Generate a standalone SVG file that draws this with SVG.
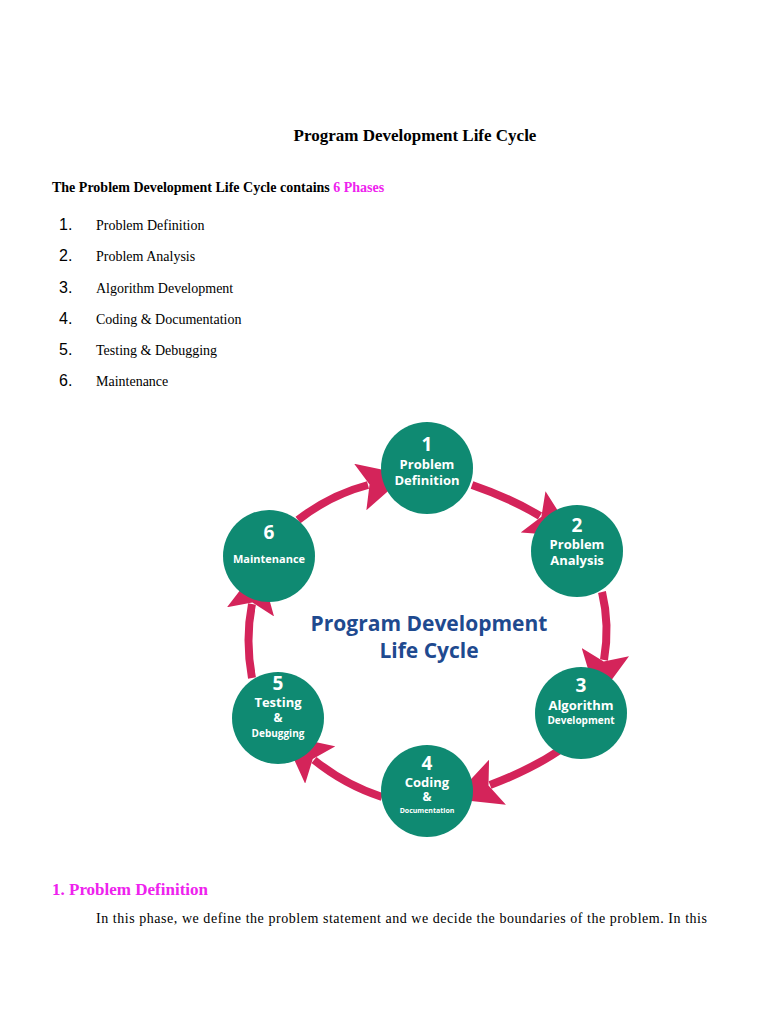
<svg xmlns="http://www.w3.org/2000/svg" width="768" height="1024" viewBox="0 0 768 1024">
<style>
.t{font-family:"Liberation Serif",serif;fill:#000}
.n{font-family:"Liberation Sans",sans-serif;font-size:16px;fill:#000}
.c{fill:#0f8a72}
.w{font-family:"Open Sans","DejaVu Sans",sans-serif;font-weight:bold;fill:#fff;text-anchor:middle}
.a{fill:none;stroke:#d4245a;stroke-width:8;marker-end:url(#h)}
</style>
<defs>
<marker id="h" markerWidth="6" markerHeight="6" refX="1" refY="3" orient="auto" markerUnits="strokeWidth">
<path d="M0,0 L6,3 L0,6 L1.2,3 Z" fill="#d4245a"/>
</marker>
</defs>
<rect width="768" height="1024" fill="#fff"/>
<text class="t" x="415" y="141" font-size="17" font-weight="bold" text-anchor="middle">Program Development Life Cycle</text>
<text class="t" x="52" y="192" font-size="14" font-weight="bold">The Problem Development Life Cycle contains <tspan fill="#ee22ee">6 Phases</tspan></text>
<text class="n" x="59" y="230">1.</text><text class="t" x="96" y="230" font-size="14">Problem Definition</text>
<text class="n" x="59" y="261">2.</text><text class="t" x="96" y="261" font-size="14">Problem Analysis</text>
<text class="n" x="59" y="293">3.</text><text class="t" x="96" y="293" font-size="14">Algorithm Development</text>
<text class="n" x="59" y="324">4.</text><text class="t" x="96" y="324" font-size="14">Coding &amp; Documentation</text>
<text class="n" x="59" y="355">5.</text><text class="t" x="96" y="355" font-size="14">Testing &amp; Debugging</text>
<text class="n" x="59" y="386">6.</text><text class="t" x="96" y="386" font-size="14">Maintenance</text>
<g id="connectors">
<path class="a" d="M472,485 Q510,498 540,516"/>
<path class="a" d="M602,592 Q610,625 604,660"/>
<path class="a" d="M560,750 Q530,770 490,785"/>
<path class="a" d="M382,797 Q345,785 314,760"/>
<path class="a" d="M252,678 Q245,640 252,604"/>
<path class="a" d="M298,520 Q330,495 368,485"/>
</g>
<g id="n1"><circle class="c" cx="427" cy="468" r="46"/><text class="w" x="427" y="451" font-size="19">1</text><text class="w" x="427" y="469" font-size="13">Problem</text><text class="w" x="427" y="485" font-size="13">Definition</text></g>
<g id="n2"><circle class="c" cx="577" cy="551" r="46"/><text class="w" x="577" y="532" font-size="19">2</text><text class="w" x="577" y="549" font-size="13">Problem</text><text class="w" x="577" y="565" font-size="13">Analysis</text></g>
<g id="n3"><circle class="c" cx="581" cy="713" r="46"/><text class="w" x="581" y="692" font-size="19">3</text><text class="w" x="581" y="710" font-size="13">Algorithm</text><text class="w" x="581" y="724" font-size="10">Development</text></g>
<g id="n4"><circle class="c" cx="427" cy="791" r="46"/><text class="w" x="427" y="770" font-size="19">4</text><text class="w" x="427" y="787" font-size="13">Coding</text><text class="w" x="427" y="801" font-size="12">&amp;</text><text class="w" x="427" y="813" font-size="7">Documentation</text></g>
<g id="n5"><circle class="c" cx="278" cy="718" r="46"/><text class="w" x="278" y="690" font-size="19">5</text><text class="w" x="278" y="707" font-size="13">Testing</text><text class="w" x="278" y="722" font-size="12">&amp;</text><text class="w" x="278" y="737" font-size="10">Debugging</text></g>
<g id="n6"><circle class="c" cx="269" cy="556" r="46"/><text class="w" x="269" y="539" font-size="19">6</text><text class="w" x="269" y="563" font-size="11">Maintenance</text></g>
<text x="429" y="631" font-family="'Open Sans','DejaVu Sans',sans-serif" font-weight="bold" font-size="21" fill="#1f4a8f" text-anchor="middle">Program Development</text>
<text x="429" y="658" font-family="'Open Sans','DejaVu Sans',sans-serif" font-weight="bold" font-size="21" fill="#1f4a8f" text-anchor="middle">Life Cycle</text>
<text class="t" x="52" y="895" font-size="17" font-weight="bold" style="fill:#ee22ee">1. Problem Definition</text>
<text class="t" x="96" y="923" font-size="14" textLength="611" lengthAdjust="spacing">In this phase, we define the problem statement and we decide the boundaries of the problem. In this</text>
</svg>
